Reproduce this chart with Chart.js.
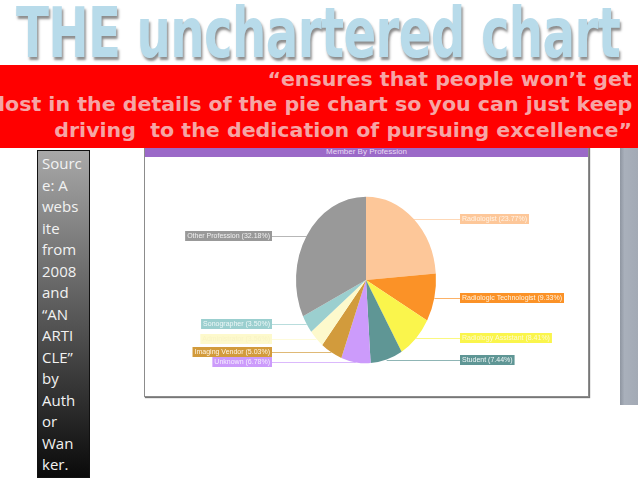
<!DOCTYPE html>
<html>
<head>
<meta charset="utf-8">
<script src="https://cdn.jsdelivr.net/npm/chart.js@4"></script>
<style>
  html, body { margin: 0; padding: 0; background: #fff; }
  body { width: 638px; height: 479px; position: relative; overflow: hidden; font-family: "Liberation Sans", Arial, sans-serif; }
  #title { position: absolute; left: 16px; top: -8px; white-space: nowrap; font-family: "DejaVu Sans", sans-serif; font-weight: bold;
    font-size: 70px; color: #b8dbea; -webkit-text-stroke: 3px #ffffff; paint-order: stroke fill; text-shadow: 2px 3px 3px rgba(0,0,0,0.45); transform-origin: 0 0; letter-spacing: -1px; }
  #banner { position: absolute; left: 0; top: 65px; width: 638px; height: 83px; background: #ff0000; z-index: 5; overflow: hidden; }
  #banner div { position: absolute; right: 6px; white-space: nowrap; font-family: "DejaVu Sans", sans-serif; font-weight: bold; font-size: 19px; color: #f6a5a5; transform-origin: 100% 50%; }
  #frame { position: absolute; left: 144px; top: 134px; width: 443px; height: 261px; border: 1px solid #8c8c8c; box-shadow: 1px 1px 1px #777; background: #fff; }
  #head { position: absolute; left: 0; top: 0; width: 443px; height: 22px; background: #9b69c8; color: #e8dcf2; font-size: 8px; text-align: center; line-height: 34px; }
  #wrap { position: absolute; left: 0; top: 23px; width: 443px; height: 238px; }
  #source { position: absolute; left: 37px; top: 150px; width: 53px; height: 328px; border: 1px solid #111; box-sizing: border-box;
    background: linear-gradient(#a8a8a8, #0a0a0a); color: #f2f2f2; font-family: "Open Sans", sans-serif; font-size: 15px; line-height: 21.5px; padding: 2px 0 0 4px; }
  #side { position: absolute; left: 620px; top: 148px; width: 18px; height: 257px; background: linear-gradient(90deg, #8f96a1, #a9b0bb 25%, #a3aab5); }
</style>
</head>
<body>
<div id="title">THE unchartered chart</div>
<div id="banner">
  <div style="top:3px">“ensures that people won’t get</div>
  <div id="longLine" style="top:28px">lost in the details of the pie chart so you can just keep</div>
  <div style="top:54px">driving&nbsp; to the dedication of pursuing excellence”</div>
</div>
<div id="frame">
  <div id="head">Member By Profession</div>
  <div id="wrap"><canvas id="pieChart"></canvas></div>
</div>
<div id="source">Sourc e: A webs ite from 2008 and “AN ARTI CLE” by Auth or Wan ker.</div>
<div id="side"></div>
<script>
const categories = ["Radiologist", "Radiologic Technologist", "Radiology Assistant", "Student", "Unknown",
  "Imaging Vendor", "Administrator", "Sonographer", "Other Profession"];
const shares = [23.77, 9.33, 8.41, 7.44, 6.78, 5.03, 3.56, 3.50, 32.18];
const sliceColors = ["#fdc799", "#fb9227", "#faf54c", "#5f9695", "#cc9bfb", "#d29b3c", "#fdf9cc", "#9bcfcf", "#999999"];
const labelText = ["#fff3e6", "#fff3e0", "#fffbd0", "#eef6f6", "#f6eeff", "#fff4e2", "#f8f3c4", "#eef8f8", "#f0f0f0"];

// fit the big title and the quote lines to the slide width
const t = document.getElementById("title");
t.style.transform = "scaleX(" + (604 / t.scrollWidth) + ")";
const k = 634 / document.getElementById("longLine").scrollWidth;
document.querySelectorAll("#banner div").forEach(d => d.style.transform = "scaleX(" + k + ")");

const yStretch = 1.19;

// draw the pie as an upright ellipse, like the screenshot
const ellipsePlugin = {
  id: "ellipse",
  beforeDatasetsDraw(chart) {
    const arc = chart.getDatasetMeta(0).data[0];
    const ctx = chart.ctx;
    ctx.save();
    ctx.translate(arc.x, arc.y);
    ctx.scale(1, yStretch);
    ctx.translate(-arc.x, -arc.y);
  },
  afterDatasetsDraw(chart) {
    chart.ctx.restore();
    const ctx = chart.ctx;
    const meta = chart.getDatasetMeta(0);
    ctx.save();
    ctx.font = "7px 'Liberation Sans', sans-serif";
    ctx.textBaseline = "middle";
    meta.data.forEach((arc, i) => {
      const mid = (arc.startAngle + arc.endAngle) / 2;
      const px = arc.x + Math.cos(mid) * arc.outerRadius;
      const py = arc.y + Math.sin(mid) * arc.outerRadius * yStretch;
      const right = px > arc.x;
      const txt = categories[i] + " (" + shares[i].toFixed(2) + "%)";
      const w = ctx.measureText(txt).width + 4;
      const bx = right ? arc.x + 94 : arc.x - 94 - w;
      ctx.strokeStyle = sliceColors[i];
      ctx.lineWidth = 1;
      ctx.globalAlpha = 0.7;
      ctx.beginPath();
      ctx.moveTo(px, Math.round(py) + 0.5);
      ctx.lineTo(right ? bx : bx + w, Math.round(py) + 0.5);
      ctx.stroke();
      ctx.globalAlpha = 1;
      ctx.fillStyle = sliceColors[i];
      ctx.fillRect(bx, Math.round(py) - 5, w, 10);
      ctx.fillStyle = labelText[i];
      ctx.fillText(txt, bx + 2, Math.round(py) + 0.5);
    });
    ctx.restore();
  }
};

new Chart(document.getElementById("pieChart"), {
  type: "pie",
  data: {
    labels: categories,
    datasets: [{
      data: shares,
      backgroundColor: sliceColors,
      borderWidth: 0
    }]
  },
  options: {
    responsive: true,
    maintainAspectRatio: false,
    animation: false,
    layout: { padding: { left: 151, right: 152, top: 52, bottom: 46 } },
    plugins: {
      legend: { display: false },
      tooltip: { enabled: false }
    }
  },
  plugins: [ellipsePlugin]
});
</script>
</body>
</html>
